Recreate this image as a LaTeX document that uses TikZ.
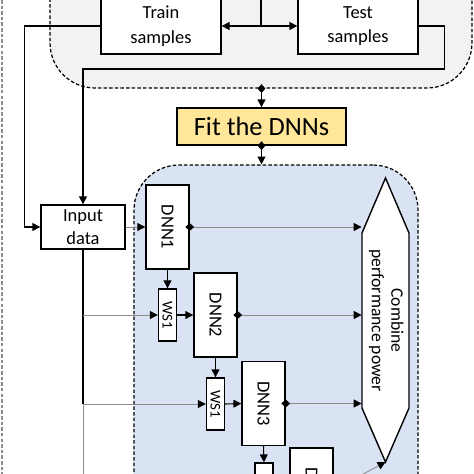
\documentclass[tikz,border=0pt]{standalone}
\usepackage{fontspec}
\setmainfont{Carlito}
\usetikzlibrary{
   arrows.meta,
   positioning
}

\definecolor{regiongray}{HTML}{F2F2F2}
\definecolor{regionblue}{HTML}{DAE3F3}
\definecolor{fitgold}{HTML}{FFE699}
\definecolor{linkgray}{HTML}{8C8C8C}

\newcommand{\vtext}[1]{\rotatebox{-90}{#1}}

\begin{document}
\begin{tikzpicture}[
    x=0.02cm, y=-0.02cm,
    box/.style={rectangle, draw, line width=0.8pt, fill=white, align=center, inner sep=1pt, font=\fontsize{10.5}{14}\selectfont},
    netbox/.style={box, minimum width=0.86cm, minimum height=1.68cm},
    wsbox/.style={box, minimum width=0.36cm, minimum height=1.04cm, font=\fontsize{8.5}{10}\selectfont},
    region/.style={rectangle, draw, dash pattern=on 2pt off 1.2pt, line width=0.7pt, rounded corners=0.9cm, inner sep=0pt},
    arrow/.style={-{Triangle[length=4.5pt,width=4.5pt]}, line width=0.8pt},
    link/.style={-{Triangle[length=4.5pt,width=4.5pt,color=black]}, line width=0.5pt, linkgray},
    dlink/.style={{Diamond[length=5pt,width=4.5pt,color=black]}-{Triangle[length=4.5pt,width=4.5pt,color=black]}, shorten <=-2.5pt, line width=0.5pt, linkgray},
    tap/.style={{Diamond[length=5pt,width=4.5pt]}-{Triangle[length=4.5pt,width=4.5pt]}, shorten <=-2.5pt, line width=0.8pt}
]
\useasboundingbox (0,0) rectangle (474,474);

% regions
\node[region, fill=regiongray, minimum width=8.44cm, minimum height=2.96cm] (prep) at (261,14) {};
\node[region, fill=regionblue, minimum width=5.68cm, minimum height=7.9cm] (ens) at (276,362.5) {};
\draw[linkgray, dash pattern=on 2pt off 1.2pt, line width=0.6pt] (2,0) -- (2,474);

\node[box, minimum width=2.4cm, minimum height=1.12cm] (train) at (161,26) {Train\\samples};
\node[box, minimum width=2.4cm, minimum height=1.12cm] (test) at (358,26) {Test\\samples};
\node[box, fill=fitgold, minimum width=3.38cm, minimum height=0.74cm, font=\fontsize{15}{18}\selectfont] (fit) at (261.5,126.5) {Fit the DNNs};
\node[box, minimum width=1.68cm, minimum height=0.88cm, font=\fontsize{10.5}{13}\selectfont] (input) at (83,227) {Input\\data};

\node[netbox] (dnn1) at (167.5,227) {\vtext{DNN1}};
\node[wsbox] (ws1) at (167.5,315) {\vtext{WS1}};
\node[netbox] (dnn2) at (215.5,315) {\vtext{DNN2}};
\node[wsbox] (ws2) at (215.5,404) {\vtext{WS1}};
\node[netbox] (dnn3) at (263.5,403.5) {\vtext{DNN3}};
\node[wsbox] (ws3) at (264,489) {};
\node[netbox] (dnn4) at (311.5,490) {\vtext{DNN4}};

% combine
\draw[line width=0.8pt, fill=white] (362,233) -- (385.5,178) -- (409,233) -- (409,408) -- (385.5,462) -- (362,408) -- cycle;
\node[minimum width=0.94cm, minimum height=3.5cm, inner sep=0pt, font=\fontsize{10}{11}\selectfont] (comb) at (385.5,320.5) {\vtext{\begin{tabular}{@{}c@{}}Combine\\performance power\end{tabular}}};
\coordinate (combtip) at (385.5,462);

\coordinate (split) at (261,26);
\draw[line width=0.8pt] (split) -- ++(0,-30);
\draw[arrow] (split) -- (train.east);
\draw[arrow] (split) -- (test.west);
\draw[arrow] (train.west) -- ++(-76,0) |- (input.west);
\draw[arrow] (test.east) -- ++(26,0) -- ++(0,43) -| (input.north);
\draw[tap] (fit.north |- prep.south) -- (fit.north);
\draw[tap] (fit.south) -- (fit.south |- ens.north);

\draw[line width=0.8pt] (input.south) -- (83,404) coordinate (branch);
\draw[line width=0.5pt, linkgray] (branch) -- (83,480);
\draw[link] (input.east) -- (dnn1.west);
\draw[link] (input.south |- ws1.west) -- (ws1.west);
\draw[link] (branch) -- (ws2.west);
\draw[arrow, line width=0.6pt] (dnn1.south) -- (ws1.north);
\draw[arrow, line width=0.6pt] (ws1.east) -- (dnn2.west);
\draw[arrow, line width=0.6pt] (dnn2.south) -- (ws2.north);
\draw[arrow, line width=0.6pt] (ws2.east) -- (dnn3.west);
\draw[arrow, line width=0.6pt] (dnn3.south) -- (ws3.north);
\draw[dlink] (dnn1.east) -- (comb.west |- dnn1.east);
\draw[dlink] (dnn2.east) -- (comb.west |- dnn2.east);
\draw[dlink] (dnn3.east) -- (comb.west |- dnn3.east);
\draw[dlink] (dnn4.east) -- (combtip);

\end{tikzpicture}
\end{document}
